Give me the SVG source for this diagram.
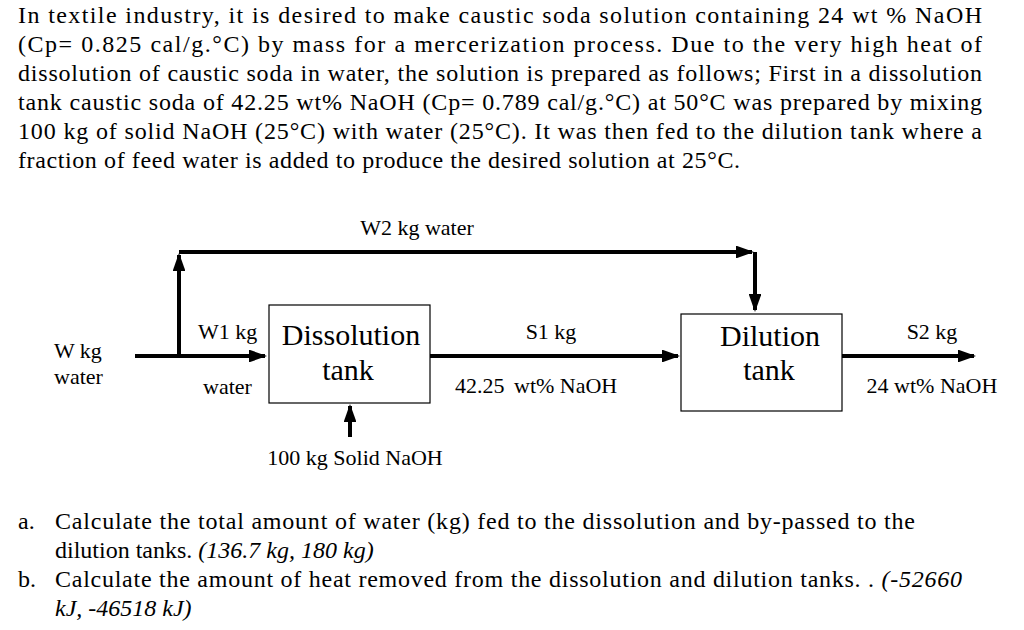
<svg xmlns="http://www.w3.org/2000/svg" width="1024" height="630" viewBox="0 0 1024 630">
<style>
.t{font-family:"Liberation Serif","Times New Roman",serif;font-size:24px;fill:#000}
.d{font-family:"Liberation Serif","Times New Roman",serif;font-size:22px;fill:#000}
.b{font-family:"Liberation Serif","Times New Roman",serif;font-size:30px;fill:#000}
.l{stroke:#000;stroke-width:4;fill:none}
.box{fill:#fff;stroke:#000;stroke-width:1.2}
</style>
<defs><marker id="a" markerWidth="4.5" markerHeight="3.2" refX="4" refY="1.6" orient="auto" markerUnits="strokeWidth"><path d="M0,0 L4.5,1.6 L0,3.2 z" fill="#000"/></marker></defs>
<rect width="1024" height="630" fill="#fff"/>
<g id="problem">
<text class="t" x="18" y="23" textLength="964" lengthAdjust="spacing">In textile industry, it is desired to make caustic soda solution containing  24 wt % NaOH</text>
<text class="t" x="18" y="52" textLength="964" lengthAdjust="spacing">(Cp= 0.825 cal/g.°C) by mass  for a mercerization process. Due to the very high heat of</text>
<text class="t" x="18" y="81" textLength="964" lengthAdjust="spacing">dissolution of caustic soda in water, the solution is prepared as follows; First in a dissolution</text>
<text class="t" x="18" y="110" textLength="964" lengthAdjust="spacing">tank caustic soda of 42.25  wt% NaOH (Cp= 0.789 cal/g.°C) at 50°C was prepared by mixing</text>
<text class="t" x="18" y="139" textLength="964" lengthAdjust="spacing">100 kg of solid NaOH (25°C)  with water (25°C). It was then fed to the dilution tank where a</text>
<text class="t" x="18" y="168" textLength="722" lengthAdjust="spacing">fraction of feed water is added to produce the desired solution at 25°C.</text>
</g>
<g id="connectors">
<path class="l" d="M135,356 H265" marker-end="url(#a)"/>
<path class="l" d="M179,356 V255" marker-end="url(#a)"/>
<path class="l" d="M179,252 H752" marker-end="url(#a)"/>
<path class="l" d="M755,252 V310" marker-end="url(#a)"/>
<path class="l" d="M430,356 H678" marker-end="url(#a)"/>
<path class="l" d="M842,356 H974" marker-end="url(#a)"/>
<path class="l" d="M350,437 V406" marker-end="url(#a)"/>
</g>
<g id="dissolution"><rect class="box" x="269" y="305" width="161" height="98"/>
<text class="b" x="351" y="345" text-anchor="middle">Dissolution</text>
<text class="b" x="348" y="380" text-anchor="middle">tank</text></g>
<g id="dilution"><rect class="box" x="681" y="314" width="161" height="97"/>
<text class="b" x="770" y="346" text-anchor="middle">Dilution</text>
<text class="b" x="769" y="380" text-anchor="middle">tank</text></g>
<g id="labels">
<text class="d" x="417" y="235" text-anchor="middle">W2 kg water</text>
<text class="d" x="54" y="358">W kg</text>
<text class="d" x="54" y="384">water</text>
<text class="d" x="198" y="339">W1 kg</text>
<text class="d" x="203" y="394">water</text>
<text class="d" x="455" y="393" font-size="19">42.25</text>
<text class="d" x="514" y="393">wt% NaOH</text>
<text class="d" x="551" y="339" text-anchor="middle">S1 kg</text>
<text class="d" x="932" y="339" text-anchor="middle">S2 kg</text>
<text class="d" x="932" y="393" text-anchor="middle">24 wt% NaOH</text>
<text class="d" x="355" y="465" text-anchor="middle">100 kg Solid NaOH</text>
</g>
<g id="questions">
<text class="t" x="18" y="529">a.</text>
<text class="t" x="55" y="529" textLength="860" lengthAdjust="spacing">Calculate the total amount of water  (kg) fed  to the dissolution and by-passed to the</text>
<text class="t" x="55" y="558">dilution tanks. <tspan font-style="italic">(136.7 kg, 180 kg)</tspan></text>
<text class="t" x="18" y="587">b.</text>
<text class="t" x="55" y="587" textLength="907" lengthAdjust="spacing">Calculate the amount of  heat removed from the dissolution and dilution tanks. . <tspan font-style="italic">(-52660</tspan></text>
<text class="t" x="55" y="616" font-style="italic">kJ, -46518 kJ)</text>
</g>
</svg>
